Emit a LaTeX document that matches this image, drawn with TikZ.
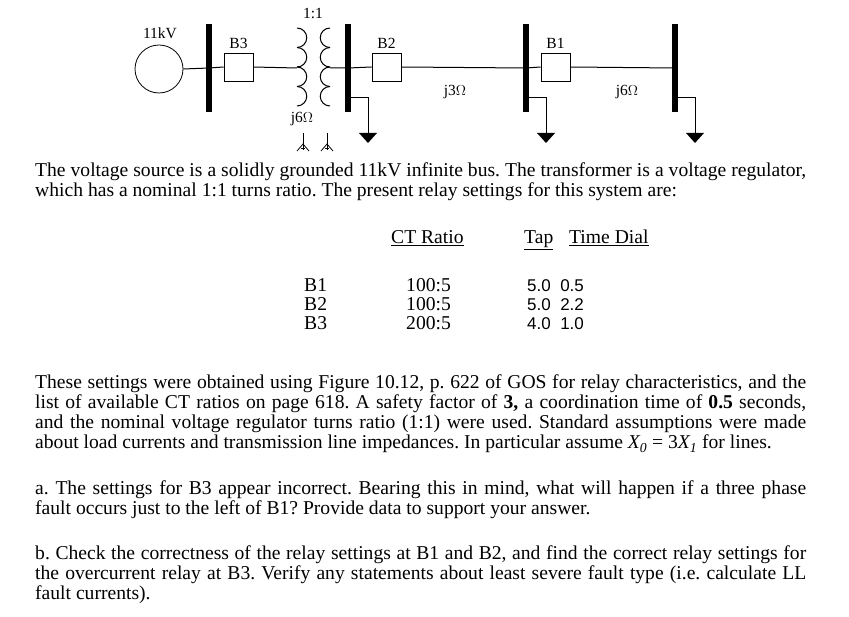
\documentclass[tikz,border=0pt]{standalone}
\usepackage{fontspec}
\setmainfont{Liberation Serif}
\newfontfamily\sansf{Liberation Sans}
\frenchspacing
\begin{document}
\begin{tikzpicture}[x=1pt,y=-1pt,
  bus/.style={fill=black},
  brk/.style={draw,thick,fill=white,minimum width=29pt,minimum height=28pt,inner sep=0},
  lbl/.style={font=\fontsize{15.5}{16}\selectfont,inner sep=0},
  txt/.style={font=\fontsize{19.6}{20}\selectfont,anchor=base west,inner sep=0},
  num/.style={font=\sansf\fontsize{17}{18}\selectfont,anchor=base west,inner sep=0},
  ln/.style={line width=1pt}]
\useasboundingbox (0,0) rectangle (849,617);
% source
\node[draw,thick,circle,minimum size=48pt,inner sep=0] (src) at (159,69) {};
\node[lbl] (kv) at (160,33) {11kV};
% buses
\fill[bus] (206,24) rectangle (212,112);
\fill[bus] (345,24) rectangle (351,112);
\fill[bus] (523,24) rectangle (529,112);
\fill[bus] (672,24) rectangle (678,112);
\coordinate (b1) at (209,68);
\coordinate (b2) at (348,68);
\coordinate (b3) at (526,68);
\coordinate (b4) at (675,68);
\node[brk] (B3) at (238.5,67) {};
\node[brk] (B2) at (386.5,67) {};
\node[brk] (B1) at (555.5,67) {};
\node[lbl] (lB3) at (238.5,43) {B3};
\node[lbl] (lB2) at (386.5,43) {B2};
\node[lbl] (lB1) at (555.5,43) {B1};
\coordinate (t1) at (297,68);
\coordinate (t2) at (330,68);
\draw[ln] (src.east) -- (b1) -- (B3.west);
\draw[ln] (B3.east) -- (t1);
\draw[ln] (t2) -- (b2) -- (B2.west);
\draw[ln] (B2.east) -- (b3) -- (B1.west);
\draw[ln] (B1.east) -- (b4);
% transformer coils
\foreach \k in {0,1,2,3}{
  \draw[ln] (297,28+19.5*\k) arc[start angle=-90,end angle=90,radius=9.75];
  \draw[ln] (330,28+19.5*\k) arc[start angle=-90,end angle=-270,radius=9.75];
}
\node[lbl] (one) at (313,13) {1:1};
\node[lbl] (zt) at (302,119) {j6$\Omega$};
% wye grounds
\foreach \x in {303,327}{
  \draw[line width=0.8pt] (\x,133) -- (\x,150);
  \draw[line width=0.8pt] (\x-6,151) -- (\x,144) -- (\x+6,151);
  \draw[line width=0.8pt] (\x-2,148) -- (\x+2,148);
}
% loads
\foreach \x in {348,526,675}{
  \draw[ln] (\x,98) -- (\x+20,98) -- (\x+20,133);
  \fill (\x+11,133) -- (\x+29,133) -- (\x+20,143) -- cycle;
}
\node[lbl] (z1) at (455,92) {j3$\Omega$};
\node[lbl] (z2) at (627,92) {j6$\Omega$};
% text
\node[txt] at (35,177) {\makebox[771pt][s]{The voltage source is a solidly grounded 11kV infinite bus. The transformer is a voltage regulator,}};
\node[txt] at (35,197) {which has a nominal 1:1 turns ratio. The present relay settings for this system are:};
\node[txt] at (391,244) {\underline{CT Ratio}};
\node[txt] at (524,244) {\underline{Tap}};
\node[txt] at (569,244) {\underline{Time Dial}};
\node[txt] at (304,292) {B1};
\node[txt] at (304,311) {B2};
\node[txt] at (304,330) {B3};
\node[txt] at (406,292) {100:5};
\node[txt] at (406,311) {100:5};
\node[txt] at (406,330) {200:5};
\node[num] at (527,292) {5.0\ \ 0.5};
\node[num] at (527,311) {5.0\ \ 2.2};
\node[num] at (527,330) {4.0\ \ 1.0};
\node[txt] at (35,389) {\makebox[771pt][s]{These settings were obtained using Figure 10.12, p. 622 of GOS for relay characteristics, and the}};
\node[txt] at (35,409) {\makebox[771pt][s]{list of available CT ratios on page 618. A safety factor of \textbf{3,} a coordination time of \textbf{0.5} seconds,}};
\node[txt] at (35,429) {\makebox[771pt][s]{and the nominal voltage regulator turns ratio (1:1) were used. Standard assumptions were made}};
\node[txt] at (35,449) {about load currents and transmission line impedances. In particular assume \textit{X\textsubscript{0}} = 3\textit{X\textsubscript{1}} for lines.};
\node[txt] at (35,494) {\makebox[771pt][s]{a. The settings for B3 appear incorrect. Bearing this in mind, what will happen if a three phase}};
\node[txt] at (35,514) {fault occurs just to the left of B1? Provide data to support your answer.};
\node[txt] at (35,559) {\makebox[771pt][s]{b. Check the correctness of the relay settings at B1 and B2, and find the correct relay settings for}};
\node[txt] at (35,579) {\makebox[771pt][s]{the overcurrent relay at B3. Verify any statements about least severe fault type (i.e. calculate LL}};
\node[txt] at (35,599) {fault currents).};
\end{tikzpicture}
\end{document}
